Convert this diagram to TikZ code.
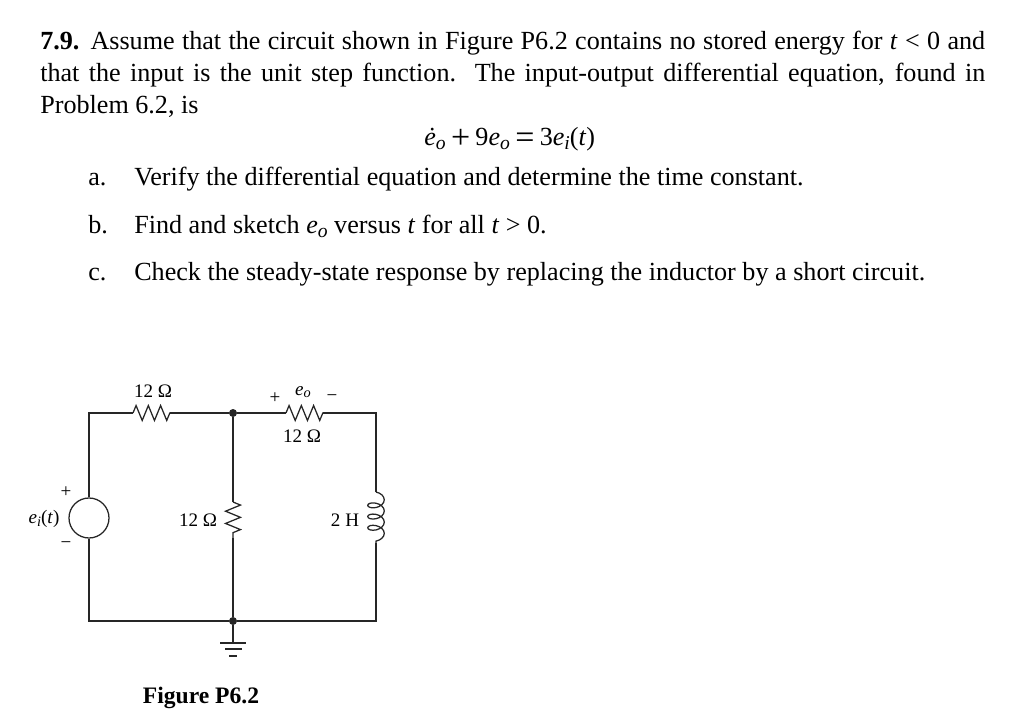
\documentclass[tikz,border=0pt]{standalone}
\usepackage{fontspec}
\setmainfont{Liberation Serif}
\usetikzlibrary{decorations.pathmorphing}
\newcommand{\sub}[1]{\raisebox{-0.3ex}{\scalebox{0.75}{\textit{#1}}}}
\newcommand{\eo}{\textit{e}\sub{o}}
\newcommand{\bigsym}[1]{\hspace{4pt}\raisebox{-2pt}{\scalebox{1.3}{#1}}\hspace{4pt}}
\tikzset{
  txt/.style={anchor=base west,inner sep=0pt,font=\fontsize{19.6}{24}\selectfont},
  lbl/.style={inner sep=0pt,font=\fontsize{14.3}{16}\selectfont},
  wire/.style={line width=0.95pt,color=black!85},
  resistor/.style={wire,decorate,decoration={zigzag,segment length=9.2pt,amplitude=5.6pt}},
  inductor/.style={wire,decorate,decoration={coil,aspect=0.6,segment length=8.4pt,amplitude=6.2pt}},
  junction/.style={circle,fill=black!85,inner sep=0pt,minimum size=6pt},
  source/.style={circle,draw,wire,inner sep=0pt,minimum size=30pt}
}
\begin{document}
\begin{tikzpicture}[x=0.75pt,y=0.75pt,yscale=-1,xscale=1]
    \useasboundingbox (0,0) rectangle (1024,723);

    % Problem text
    \node[txt,text width=708.75pt,align=justify] (intro) at (40,50)
      {\textbf{7.9.} Assume that the circuit shown in Figure P6.2 contains no stored energy for \textit{t} < 0 and\linebreak
       that the input is the unit step function.\ \ The input-output differential equation, found in\linebreak
       Problem 6.2, is};
    \node[txt] (diffeq) at (424,146) {\textit{ė}\sub{o}\bigsym{+}9\eo\bigsym{=}3\textit{e}\sub{i}(\textit{t})};
    \node[txt] (parta) at (88,186) {a.};
    \node[txt] (texta) at (134,186) {Verify the differential equation and determine the time constant.};
    \node[txt] (partb) at (88,234) {b.};
    \node[txt] (textb) at (134,234) {Find and sketch \eo{} versus \textit{t} for all \textit{t} > 0.};
    \node[txt] (partc) at (88,281) {c.};
    \node[txt] (textc) at (134,281) {Check the steady-state response by replacing the inductor by a short circuit.};

    % Corners and junctions
    \coordinate (tl) at (88,413);
    \coordinate (tr) at (376,413);
    \coordinate (bl) at (88,621);
    \coordinate (br) at (376,621);
    \node[junction] (top) at (233,413) {};
    \node[junction] (bot) at (233,621) {};
    \node[source] (vs) at (89,518) {};

    % Resistors
    \coordinate (ra1) at (133,413);
    \coordinate (ra2) at (170,413);
    \coordinate (rb1) at (286,413);
    \coordinate (rb2) at (323,413);
    \coordinate (rc1) at (233,502);
    \coordinate (rc2) at (233,538);
    \coordinate (la1) at (376,492);
    \coordinate (la2) at (376,543);

    % Wires
    \draw[wire] (vs) -- (vs|-tl) -- (ra1);
    \draw[resistor] (ra1) -- (ra2);
    \draw[wire] (ra2) -- (top) -- (rb1);
    \draw[resistor] (rb1) -- (rb2);
    \draw[wire] (rb2) -- (tr) -- (la1);
    \draw[inductor] (la1) -- (la2);
    \draw[wire] (la2) -- (br) -- (bot) -- (vs|-bl) -- (vs);
    \draw[wire] (top) -- (rc1);
    \draw[resistor] (rc1) -- (rc2);
    \draw[wire] (rc2) -- (bot);

    % Ground
    \coordinate (gnd) at (233,643);
    \coordinate (gnda) at (220,643);
    \coordinate (gndb) at (246,643);
    \coordinate (gndc) at (225,649);
    \coordinate (gndd) at (242,649);
    \coordinate (gnde) at (229,656);
    \coordinate (gndf) at (237,656);
    \draw[wire] (bot) -- (gnd);
    \draw[wire] (gnda) -- (gndb);
    \draw[wire] (gndc) -- (gndd);
    \draw[wire] (gnde) -- (gndf);

    % Labels
    \node[lbl] (lra) at (153,391) {12 Ω};
    \node[lbl] (lrb) at (302,436) {12 Ω};
    \node[lbl] (lrc) at (198,520) {12 Ω};
    \node[lbl] (lla) at (345,520) {2 H};
    \node[lbl] (leo) at (303,392) {\eo};
    \node[lbl] (lpos) at (275,398) {+};
    \node[lbl] (lneg) at (332,398) {\textminus};
    \node[lbl] (lvs) at (44,519) {\textit{e}\sub{i}(\textit{t})};
    \node[lbl] (lvp) at (66,492) {+};
    \node[lbl] (lvn) at (66,545) {\textminus};
    \node[anchor=base,inner sep=0pt,font=\fontsize{17.7}{20}\selectfont\bfseries] (caption) at (201,703) {Figure P6.2};
\end{tikzpicture}
\end{document}
